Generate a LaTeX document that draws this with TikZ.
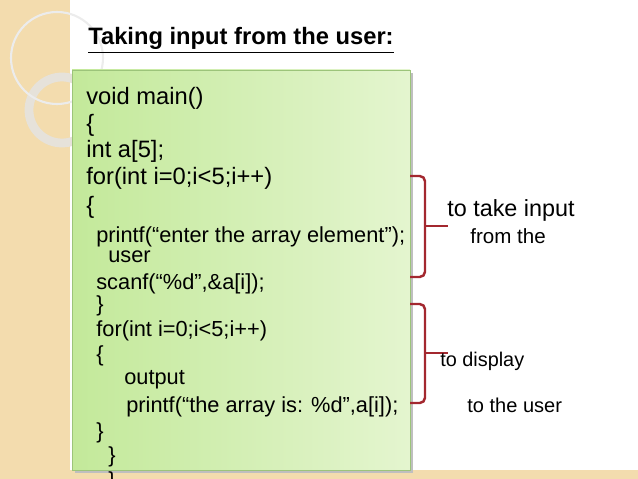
\documentclass[tikz,border=0pt]{standalone}
\usepackage{fontspec}
\setmainfont{Liberation Sans}
\usepackage{xcolor}
\usetikzlibrary{positioning, shadows}
\definecolor{slideBeige}{HTML}{F3DCAE}
\definecolor{codeGreenL}{HTML}{C3E99A}
\definecolor{codeGreenR}{HTML}{E4F5CF}
\definecolor{codeEdge}{HTML}{9CC47A}
\definecolor{braceRed}{HTML}{A3282F}
\definecolor{ringGrey}{HTML}{E6E2DA}
\begin{document}
\begin{tikzpicture}[
    x=0.02cm, y=-0.02cm,
    code/.style={anchor=base west, inner sep=0pt, font=\fontsize{13.5}{16}\selectfont},
    small/.style={anchor=base west, inner sep=0pt, font=\fontsize{12.4}{14}\selectfont},
    note/.style={anchor=base west, inner sep=0pt, font=\fontsize{#1}{14}\selectfont},
    brace/.style={draw=braceRed, line width=1.4pt, rounded corners=3pt}
]
\useasboundingbox (0,0) rectangle (638,479);

% Slide background
\fill[slideBeige] (0,0) rectangle (70,479);
\fill[slideBeige] (0,470) rectangle (638,479);
\draw[ringGrey, line width=5pt] (62,110) circle (33);
\draw[white!85!gray, line width=1.2pt] (57,58) circle (46);

% Title
\node[anchor=base west, inner sep=0pt, font=\fontsize{13.5}{16}\selectfont\bfseries] (title)
  at (88,45) {\underline{Taking input from the user:}};

% Code box
\fill[black!25] (75,73) rectangle (413,473);
\shade[left color=codeGreenL, right color=codeGreenR, draw=codeEdge] (72,70) rectangle (410,470);

\begin{scope}
\clip (72,70) rectangle (410,479);
\node[code] (l1) at (86,105) {void main()};
\node[code] (l2) at (86,132) {\{};
\node[code] (l3) at (86,158) {int a[5];};
\node[code] (l4) at (86,185) {for(int i=0;i<5;i++)};
\node[code] (l5) at (86,214) {\{};
\node[small] (l6) at (96,243) {printf(“enter the array element”);};
\node[small] (l7) at (108,262) {user};
\node[small] (l8) at (96,289) {scanf(“\%d”,\&a[i]);};
\node[small] (l9) at (96,311) {\}};
\node[small] (l10) at (96,336) {for(int i=0;i<5;i++)};
\node[small] (l11) at (96,361) {\{};
\node[small] (l12) at (124,384) {output};
\node[small] (l13) at (126,412) {printf(“the array is: \%d”,a[i]);};
\node[small] (l14) at (96,438) {\}};
\node[small] (l15) at (108,462) {\}};
\node[small] (l16) at (108,487) {\}};
\end{scope}

% Braces
\draw[brace] (410,176) -- (425,176) -- (425,277) -- (410,277);
\draw[braceRed, line width=1.4pt] (425,226) -- (448,226);
\draw[brace] (410,304) -- (425,304) -- (425,403) -- (410,403);
\draw[braceRed, line width=1.4pt] (425,353) -- (448,353);

% Notes
\node[note=13.3] (input) at (447,217) {to take input};
\node[note=11.7] (from) at (470,244) {from the};
\node[note=11.3] (display) at (440,366) {to display};
\node[note=11.4] (touser) at (467,412) {to the user};
\end{tikzpicture}
\end{document}
